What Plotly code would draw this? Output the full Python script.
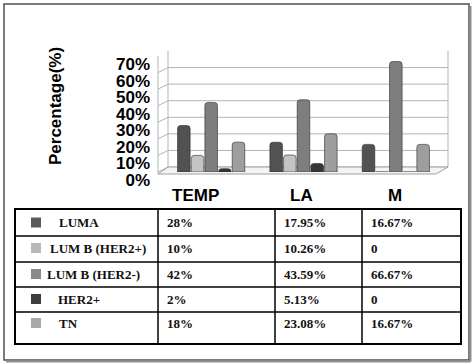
import plotly.graph_objects as go

# ---- data ----
categories = ["TEMP", "LA", "M"]
series_names = ["LUMA", "LUM B (HER2+)", "LUM B (HER2-)", "HER2+", "TN"]
lum_a = [28, 17.95, 16.67]
lum_b_her2_pos = [10, 10.26, 0]
lum_b_her2_neg = [42, 43.59, 66.67]
her2_pos = [2, 5.13, 0]
tn = [18, 23.08, 16.67]
y_tick_values = [0, 10, 20, 30, 40, 50, 60, 70]
y_tick_text = ["0%", "10%", "20%", "30%", "40%", "50%", "60%", "70%"]
y_title = "Percentage(%)"

series_values = [lum_a, lum_b_her2_pos, lum_b_her2_neg, her2_pos, tn]

# ---- styles ----
W, H = 474, 363
bar_colors = ["#525252", "#c4c4c4", "#7e7e7e", "#363636", "#9e9e9e"]
swatch_colors = ["#5a5a5a", "#b8b8b8", "#8a8a8a", "#3e3e3e", "#a8a8a8"]
label_x_px = [57, 48, 45, 56, 57]
cat_label_shift = [-16, -2, -1]
grid_col = "#b4b4b4"


def X(px):
    return px / W


def Y(py):
    return 1 - py / H


fig = go.Figure()
for name, vals, col in zip(series_names, series_values, bar_colors):
    fig.add_trace(go.Bar(
        x=categories, y=vals, name=name,
        marker=dict(color=col, line=dict(color="#2a2a2a", width=0.6), cornerradius=3),
        showlegend=False,
    ))

plot_left, plot_right = 165, 442
y_top, y_bot = 56, 172
wall_l, wall_r, front_l, depth = 168, 448, 158, 5

shapes = []
# back wall gridlines + left-side stubs (3D look)
for v in y_tick_values:
    shapes.append(dict(type="line", xref="paper", yref="y", ysizemode="pixel", yanchor=v,
                       x0=X(wall_l), x1=X(wall_r), y0=depth, y1=depth,
                       line=dict(color=grid_col, width=1), layer="below"))
    shapes.append(dict(type="line", xref="paper", yref="y", ysizemode="pixel", yanchor=v,
                       x0=X(front_l), x1=X(wall_l), y0=0, y1=depth,
                       line=dict(color=grid_col, width=1), layer="below"))
shapes.append(dict(type="line", xref="paper", yref="paper", x0=X(front_l), x1=X(front_l),
                   y0=Y(y_top), y1=Y(y_bot + 2), line=dict(color=grid_col, width=1), layer="below"))
shapes.append(dict(type="line", xref="paper", yref="paper", x0=X(wall_l), x1=X(wall_l),
                   y0=Y(y_top - depth), y1=Y(y_bot - depth), line=dict(color=grid_col, width=1), layer="below"))
shapes.append(dict(type="line", xref="paper", yref="paper", x0=X(wall_r), x1=X(wall_r),
                   y0=Y(y_top - depth), y1=Y(y_bot - depth), line=dict(color=grid_col, width=1), layer="below"))
# floor
shapes.append(dict(type="path", xref="paper", yref="paper",
                   path=f"M {X(front_l)},{Y(y_bot + 2)} L {X(436)},{Y(y_bot + 2)} L {X(wall_r)},{Y(y_bot - depth)} L {X(wall_l)},{Y(y_bot - depth)} Z",
                   line=dict(color="#a0a0a0", width=1), fillcolor="#f4f4f4", layer="below"))

# outer frame
shapes.append(dict(type="rect", xref="paper", yref="paper", x0=X(4), x1=X(469), y0=Y(4), y1=Y(360),
                   line=dict(color="#505050", width=1.5)))
shapes.append(dict(type="line", xref="paper", yref="paper", x0=X(470.5), x1=X(470.5), y0=Y(6), y1=Y(361.5),
                   line=dict(color="#909090", width=2)))
shapes.append(dict(type="line", xref="paper", yref="paper", x0=X(6), x1=X(470.5), y0=Y(361.5), y1=Y(361.5),
                   line=dict(color="#909090", width=2)))

# table
row_bounds = [209, 236, 262, 287, 312, 344]
col_bounds = [15, 158, 275, 362, 461]
shapes.append(dict(type="rect", xref="paper", yref="paper", x0=X(col_bounds[0]), x1=X(col_bounds[-1]),
                   y0=Y(row_bounds[0]), y1=Y(row_bounds[-1]), line=dict(color="#000", width=2),
                   fillcolor="white", layer="above"))
for rb in row_bounds[1:-1]:
    shapes.append(dict(type="line", xref="paper", yref="paper", x0=X(col_bounds[0]), x1=X(col_bounds[-1]),
                       y0=Y(rb), y1=Y(rb), line=dict(color="#000", width=1.5)))
for cb in col_bounds[1:-1]:
    shapes.append(dict(type="line", xref="paper", yref="paper", x0=X(cb), x1=X(cb),
                       y0=Y(row_bounds[0]), y1=Y(row_bounds[-1]), line=dict(color="#000", width=1.5)))

annotations = []
text_rows_y = [222.5, 248, 274, 299, 323]
for i, (name, vals) in enumerate(zip(series_names, series_values)):
    ty = text_rows_y[i]
    shapes.append(dict(type="rect", xref="paper", yref="paper", x0=X(31), x1=X(41),
                       y0=Y(ty - 5), y1=Y(ty + 5), line=dict(width=0), fillcolor=swatch_colors[i]))
    annotations.append(dict(text=f"<b>{name}</b>", xref="paper", yref="paper", x=X(label_x_px[i]), y=Y(ty),
                            xanchor="left", yanchor="middle", showarrow=False,
                            font=dict(family="Liberation Serif", size=13, color="#111")))
    for j, v in enumerate(vals):
        txt = "0" if v == 0 else f"{v:g}%"
        annotations.append(dict(text=f"<b>{txt}</b>", xref="paper", yref="paper", x=X(col_bounds[j + 1] + 7),
                                y=Y(ty), xanchor="left", yanchor="middle", showarrow=False,
                                font=dict(family="Liberation Serif", size=13, color="#111")))

for c, sh in zip(categories, cat_label_shift):
    annotations.append(dict(text=f"<b>{c}</b>", xref="x", yref="paper", x=c, y=Y(195), xshift=sh,
                            xanchor="center", yanchor="middle", showarrow=False,
                            font=dict(family="Liberation Sans", size=17, color="#000")))
annotations.append(dict(text=f"<b>{y_title}</b>", xref="paper", yref="paper", x=X(55), y=Y(106),
                        textangle=-90, xanchor="center", yanchor="middle", showarrow=False,
                        font=dict(family="Liberation Sans", size=17, color="#000")))

fig.update_layout(
    width=W, height=H,
    autosize=False,
    margin=dict(l=0, r=0, t=0, b=0, pad=0, autoexpand=False),
    paper_bgcolor="white", plot_bgcolor="rgba(0,0,0,0)",
    barmode="group", bargap=0.26, bargroupgap=0.08,
    xaxis=dict(domain=[X(plot_left), X(plot_right)], showticklabels=False, showgrid=False,
               showline=False, zeroline=False, ticks="", automargin=False),
    yaxis=dict(domain=[Y(y_bot), Y(y_top)], range=[0, 70], tickvals=y_tick_values, ticktext=y_tick_text,
               showgrid=False, zeroline=False,
               showline=False, ticks="", ticklabelstandoff=14, ticklabelshift=8, automargin=False,
               tickfont=dict(family="Liberation Sans", size=17, color="#000", weight="bold")),
    shapes=shapes,
    annotations=annotations,
)

fig.write_html("out.html", config={"displayModeBar": False},
               post_script="document.body.style.margin='0';document.body.style.padding='0';")
